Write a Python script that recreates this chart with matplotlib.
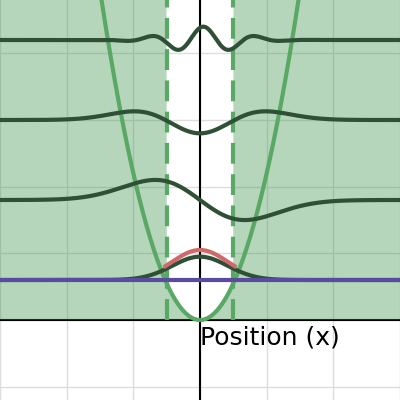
import numpy as np
import matplotlib
matplotlib.use("Agg")
import matplotlib.pyplot as plt

k = 2.2                      # potential V = k x^2
energies = [0.6, 1.8, 3.0, 4.2]
turning = 0.5
xlabel = "Position (x)"

x = np.linspace(-3, 3, 1200)
V = k * x**2

def psi(n, x):
    if n == 0:
        return 0.35 * np.exp(-x**2 / 0.35)
    if n == 1:
        return -0.74 * x * np.exp(-x**2 / 0.9)
    if n == 2:
        return 0.2 * (2.6 * x**2 / 0.7 - 1) * np.exp(-x**2 / 0.7)
    return 0.2 * np.cos(2 * np.pi * (x - 0.05) / 0.8) * np.exp(-(x - 0.05)**2 / 0.5)

fig = plt.figure(figsize=(4, 4), dpi=100)
ax = fig.add_axes([0, 0, 1, 1])
ax.set_xlim(-3, 3)
ax.set_ylim(-1.2, 4.8)
for g in np.arange(-3, 4):
    ax.axvline(g, color="#dddddd", lw=1, zorder=0)
for g in np.arange(-1, 5):
    ax.axhline(g, color="#dddddd", lw=1, zorder=0)
ax.axhline(0, color="black", lw=1.5, zorder=1)
ax.axvline(0, color="black", lw=1.5, zorder=1)

shade = "#2e8b3e"
top = 4.8
inside = np.abs(x) < turning
upper = np.where(inside, np.minimum(V, top), top)
ax.fill_between(x, 0, upper, color=shade, alpha=0.35, lw=0, zorder=1)

ax.plot(x, V, color="#5aa865", lw=3, zorder=3)
for t in (-turning, turning):
    ax.plot([t, t], [0, top], color="#5aa865", lw=3, ls=(0, (5, 2.5)), zorder=3)

for n, E in enumerate(energies):
    ax.plot(x, E + psi(n, x), color="#2f4f37", lw=3, zorder=4)
ax.axhline(energies[0], color="#5b4ba0", lw=3, zorder=5)
xr = np.linspace(-0.52, 0.52, 200)
ax.plot(xr, energies[0] + 0.45 * np.exp(-xr**2 / 0.35), color="#d06a6a", lw=3, zorder=5)

ax.text(0, -0.08, xlabel, fontsize=18, ha="left", va="top", color="black", zorder=7)
ax.axis("off")
fig.savefig("out.png", dpi=100)
